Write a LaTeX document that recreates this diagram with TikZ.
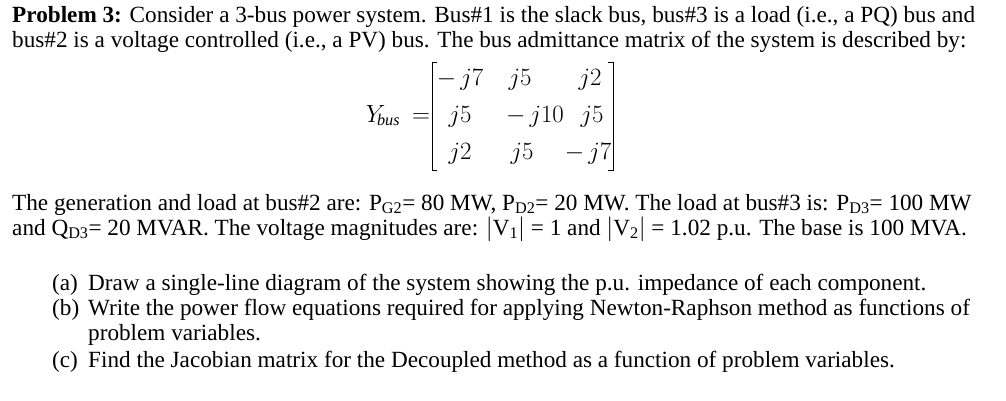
\documentclass[tikz,border=0pt]{standalone}
\usepackage{fontspec}
\setmainfont{Liberation Serif}
\begin{document}
\begin{tikzpicture}[x=1pt,y=-1pt,
  txt/.style={anchor=base west,inner sep=0,font=\fontsize{23.2}{27}\selectfont},
  ent/.style={anchor=base,inner sep=0,font=\fontsize{23.2}{27}\selectfont}]
\useasboundingbox (0,0) rectangle (1006,400);
\node[txt] (l1) at (12,22) {\textbf{Problem 3:} Consider a 3-bus power system. Bus\#1 is the slack bus, bus\#3 is a load (i.e., a PQ) bus and};
\node[txt] (l2) at (12,47) {bus\#2 is a voltage controlled (i.e., a PV) bus. The bus admittance matrix of the system is described by:};
\node[ent] (y) at (383,122) {$Y_{\!\mathit{bus}}$};
\node[ent] (eq) at (421,122) {$=$};
\node[ent] at (460,85) {$-\,j7$};
\node[ent] at (520,85) {$j5$};
\node[ent] at (590,85) {$j2$};
\node[ent] at (460,122) {$j5$};
\node[ent] at (535,122) {$-\,j10$};
\node[ent] at (592,122) {$j5$};
\node[ent] at (460,159) {$j2$};
\node[ent] at (522,159) {$j5$};
\node[ent] at (588,159) {$-\,j7$};
\draw[line width=0.9] (437,62) -- (432,62) -- (432,170) -- (437,170);
\draw[line width=0.9] (608,62) -- (613,62) -- (613,170) -- (608,170);
\node[txt] (p1) at (12,210) {The generation and load at bus\#2 are: P\textsubscript{G2}= 80 MW, P\textsubscript{D2}= 20 MW. The load at bus\#3 is: P\textsubscript{D3}= 100 MW};
\node[txt] (p2) at (12,235) {and Q\textsubscript{D3}= 20 MVAR. The voltage magnitudes are: $|$V\textsubscript{1}$|$ = 1 and $|$V\textsubscript{2}$|$ = 1.02 p.u. The base is 100 MVA.};
\node[txt] (a) at (52,290) {(a)};
\node[txt] (at) at (88,290) {Draw a single-line diagram of the system showing the p.u. impedance of each component.};
\node[txt] (b) at (52,315) {(b)};
\node[txt] (bt) at (88,315) {Write the power flow equations required for applying Newton-Raphson method as functions of};
\node[txt] (bt2) at (88,340) {problem variables.};
\node[txt] (c) at (52,367) {(c)};
\node[txt] (ct) at (88,367) {Find the Jacobian matrix for the Decoupled method as a function of problem variables.};
\end{tikzpicture}
\end{document}
